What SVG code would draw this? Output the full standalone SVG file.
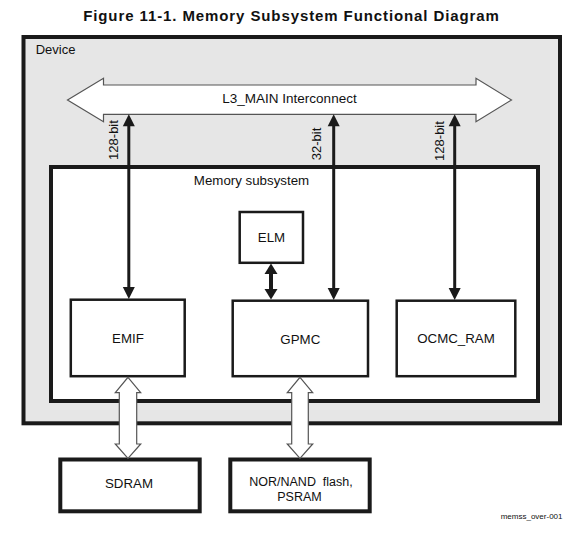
<svg xmlns="http://www.w3.org/2000/svg" width="584" height="533" viewBox="0 0 584 533">
<defs>
<style>
text{font-family:"Liberation Sans",Arial,sans-serif;fill:#111;}
.lbl{font-size:13.3px;text-anchor:middle;}
.box{fill:#fff;stroke:#1a1a1a;stroke-width:2.5;}
.thick{fill:#fff;stroke:#1a1a1a;stroke-width:4;}
.bus{fill:#fff;stroke:#555;stroke-width:1.2;stroke-linejoin:miter;}
.wire{stroke:#1a1a1a;stroke-width:3;fill:none;}
.head{fill:#1a1a1a;}
</style>
</defs>
<rect width="584" height="533" fill="#fff"/>
<text x="291.5" y="20.5" style="font-size:15px;font-weight:bold;text-anchor:middle;letter-spacing:0.9px">Figure 11-1. Memory Subsystem Functional Diagram</text>

<g id="device">
<rect x="23.5" y="37" width="536.5" height="386.3" fill="#e6e6e6" stroke="#1a1a1a" stroke-width="4"/>
<text x="35.7" y="54" style="font-size:13px">Device</text>
</g>

<g id="l3main">
<polygon class="bus" points="67.5,100 103.5,78.3 103.5,85 476,85 476,78.3 511.5,100 476,121.7 476,114.3 103.5,114.3 103.5,121.7"/>
<text x="289.5" y="103.3" style="font-size:13.5px;text-anchor:middle">L3_MAIN Interconnect</text>
</g>

<g id="memss">
<rect class="thick" x="51" y="167" width="487" height="234"/>
<text class="lbl" x="251.5" y="185">Memory subsystem</text>
</g>

<g id="elm">
<rect class="box" x="239.7" y="212" width="63.3" height="50.8"/>
<text class="lbl" x="271.5" y="241.7">ELM</text>
</g>

<g id="emif">
<rect class="box" x="70.8" y="299.7" width="113.9" height="76.5"/>
<text class="lbl" x="128" y="343.3">EMIF</text>
</g>

<g id="gpmc">
<rect class="box" x="232.7" y="300.7" width="135.3" height="75.5"/>
<text class="lbl" x="300.3" y="344.3">GPMC</text>
</g>

<g id="ocmc">
<rect class="box" x="396.7" y="300.7" width="118.6" height="75.5"/>
<text class="lbl" x="456" y="342.7">OCMC_RAM</text>
</g>

<g id="sdram">
<rect class="thick" x="60.3" y="459.5" width="139.4" height="51.8"/>
<text class="lbl" x="129" y="488.3">SDRAM</text>
</g>

<g id="nor">
<rect class="thick" x="230.3" y="459.5" width="139.4" height="51.8"/>
<text x="301" y="486" xml:space="preserve" style="font-size:12.5px;text-anchor:middle">NOR/NAND  flash,</text>
<text x="299.5" y="500.5" style="font-size:12.5px;text-anchor:middle">PSRAM</text>
</g>

<g id="connectors">
<line class="wire" x1="128.8" y1="124" x2="128.8" y2="289"/>
<polygon class="head" points="128.8,114.3 122.8,126.3 134.8,126.3"/>
<polygon class="head" points="128.8,299 122.8,287 134.8,287"/>
<text x="118" y="140" transform="rotate(-90 118 140)" style="font-size:13px;text-anchor:middle">128-bit</text>

<line class="wire" x1="333.7" y1="124" x2="333.7" y2="290"/>
<polygon class="head" points="333.7,114.3 327.7,126.3 339.7,126.3"/>
<polygon class="head" points="333.7,300 327.7,288 339.7,288"/>
<text x="321.4" y="144" transform="rotate(-90 321.4 144)" style="font-size:13px;text-anchor:middle">32-bit</text>

<line class="wire" x1="454.7" y1="124" x2="454.7" y2="290"/>
<polygon class="head" points="454.7,114.3 448.7,126.3 460.7,126.3"/>
<polygon class="head" points="454.7,300 448.7,288 460.7,288"/>
<text x="444" y="141" transform="rotate(-90 444 141)" style="font-size:13px;text-anchor:middle">128-bit</text>

<line x1="271" y1="272" x2="271" y2="290" stroke="#1a1a1a" stroke-width="4"/>
<polygon class="head" points="271,263.5 264.5,274 277.5,274"/>
<polygon class="head" points="271,299.5 264.5,289 277.5,289"/>

<polygon class="bus" points="128,377.3 140.7,392.7 136.7,392.7 136.7,444 140.7,444 128,458.3 115.3,444 119.3,444 119.3,392.7 115.3,392.7"/>
<polygon class="bus" points="300,377.3 312.7,392.7 308.3,392.7 308.3,444 312.7,444 300,458.3 287.3,444 291.7,444 291.7,392.7 287.3,392.7"/>
</g>

<text x="500.7" y="519.3" style="font-size:8px">memss_over-001</text>
</svg>
